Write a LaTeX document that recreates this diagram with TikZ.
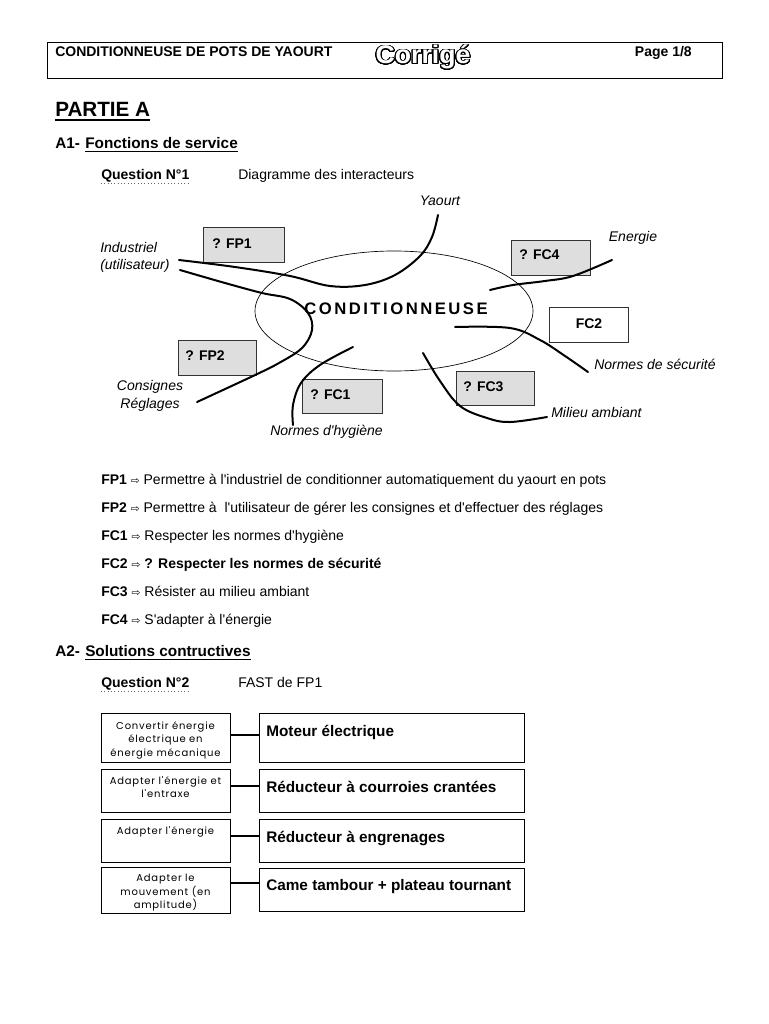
\documentclass[tikz,border=0pt]{standalone}
\usepackage{fontspec}
\setmainfont{Liberation Sans}[Ligatures=TeXOff]
\newfontfamily\spacedfont{Liberation Sans}[LetterSpace=15]
\newfontfamily\fastfont{Poppins}[LetterSpace=8]
\newfontfamily\symfont{DejaVu Sans}
\usepackage{graphicx}
\usepackage[copies]{contour}
\contourlength{0.6pt}
\contournumber{40}
\usetikzlibrary{shapes.geometric,calc}
\definecolor{boxgrey}{HTML}{DEDEDE}
\newcommand{\arr}{{\symfont\fontsize{8}{10}\selectfont ⇨}}
\begin{document}
\begin{tikzpicture}[x=0.75pt,y=-0.75pt,
  txt/.style={inner sep=0pt, anchor=base west, font=\fontsize{10.5}{12}\selectfont},
  btxt/.style={txt, font=\bfseries\fontsize{10.5}{12}\selectfont},
  itxt/.style={inner sep=0pt, anchor=base, font=\itshape\fontsize{10.5}{12.5}\selectfont, align=center},
  greybox/.style={draw=black!80, fill=boxgrey, line width=0.6pt, inner sep=0pt, anchor=north west},
  whitebox/.style={draw=black!80, fill=white, line width=0.6pt, inner sep=0pt, anchor=north west},
  curve/.style={line width=1.5pt, line cap=round, line join=round},
  fastbox/.style={draw=black, line width=0.8pt, inner sep=0pt, anchor=north west},
  fasttxt/.style={inner sep=0pt, anchor=north, align=center, font=\fastfont\fontsize{7.5}{10.2}\selectfont},
  fastsol/.style={inner sep=0pt, anchor=base west, font=\bfseries\fontsize{11.5}{13}\selectfont}
]
\useasboundingbox (0,0) rectangle (768,1024);
\fill[white] (0,0) rectangle (768,1024);

% header
\node[draw, line width=1pt, minimum width=675*0.75pt, minimum height=36*0.75pt, anchor=north west, inner sep=0pt] (hdr) at (47,42) {};
\node[btxt] (htitle) at (55,57) {CONDITIONNEUSE DE POTS DE YAOURT};
\node[btxt, anchor=base east] (hpage) at (692,57) {Page 1/8};
\node[inner sep=0pt, anchor=base, text=white, font=\bfseries\fontsize{16}{18}\selectfont] (corr) at (423,64) {\scalebox{1.25}[1.2]{\contour{black}{Corrigé}}};

% titles
\node[txt, font=\bfseries\fontsize{15.5}{18}\selectfont] (partie) at (55,116) {PARTIE A};
\draw[line width=1.1pt] ($(partie.base west)+(0,4)$) -- ($(partie.base east)+(0,4)$);
\node[txt, font=\bfseries\fontsize{11.5}{13}\selectfont] (a1) at (55,148) {A1-};
\node[txt, font=\bfseries\fontsize{11.5}{13}\selectfont] (a1t) at (85,148) {Fonctions de service};
\draw[line width=0.9pt] ($(a1t.base west)+(0,3.5)$) -- ($(a1t.base east)+(0,3.5)$);
\node[btxt] (q1) at (101,179) {Question N°1};
\draw[dotted, line width=0.5pt, black!60] ($(q1.base west)+(0,4)$) -- ($(q1.base east)+(0,4)$);
\node[txt] (q1t) at (238,179) {Diagramme des interacteurs};

% interactor diagram
\node[draw, ellipse, line width=0.5pt, minimum width=278*0.75pt, minimum height=120*0.75pt, inner sep=0pt] (cond) at (394,311) {};
\node[inner sep=0pt, font=\spacedfont\bfseries\fontsize{12.5}{14}\selectfont] (condt) at (396,309) {CONDITIONNEUSE};

\node[greybox, minimum width=81*0.75pt, minimum height=35*0.75pt] (bfp1) at (203,227) {};
\node[greybox, minimum width=79*0.75pt, minimum height=35*0.75pt] (bfc4) at (511,240) {};
\node[whitebox, minimum width=79*0.75pt, minimum height=35*0.75pt] (bfc2) at (549,307) {};
\node[greybox, minimum width=78*0.75pt, minimum height=35*0.75pt] (bfp2) at (178,340) {};
\node[greybox, minimum width=80*0.75pt, minimum height=34*0.75pt] (bfc1) at (302,379) {};
\node[greybox, minimum width=78*0.75pt, minimum height=34*0.75pt] (bfc3) at (456,371) {};

\draw[curve] plot[smooth, tension=0.6] coordinates {(179,260) (235,267) (290,276) (330,286) (365,285) (395,275) (420,256) (432,237) (438,215)};
\draw[curve] plot[smooth, tension=0.6] coordinates {(180,270) (225,283) (262,293) (290,299) (308,313) (312,330) (302,348) (279,363) (253,376) (197,402)};
\draw[curve] plot[smooth, tension=0.6] coordinates {(353,347) (320,365) (301,383) (293,405) (293,425)};
\draw[curve] plot[smooth, tension=0.6] coordinates {(490,290) (513,285) (545,281) (573,276) (612,260)};
\draw[curve] plot[smooth, tension=0.6] coordinates {(455,327) (510,328) (540,340) (565,356) (588,372)};
\draw[curve] plot[smooth, tension=0.6] coordinates {(423,353) (440,381) (460,406) (487,418) (510,422) (547,417)};

\node[btxt] (tfp1) at (212,248) {? FP1};
\node[btxt] (tfc4) at (519,259) {? FC4};
\node[btxt, anchor=base] (tfc2) at (589,328) {FC2};
\node[btxt] (tfp2) at (185,360) {? FP2};
\node[btxt] (tfc1) at (310,399) {? FC1};
\node[btxt] (tfc3) at (463,391) {? FC3};

\node[itxt] (yaourt) at (440,205) {Yaourt};
\node[itxt, anchor=base west] (indus) at (100,252) {Industriel};
\node[itxt, anchor=base west] (util) at (100,269) {(utilisateur)};
\node[itxt] (energie) at (633,241) {Energie};
\node[itxt, anchor=base west] (nsecu) at (594,369) {Normes de sécurité};
\node[itxt] (consig) at (150,390) {Consignes};
\node[itxt] (regl) at (150,408) {Réglages};
\node[itxt, anchor=base west] (milieu) at (551,417) {Milieu ambiant};
\node[itxt, anchor=base west] (nhyg) at (270,435) {Normes d'hygiène};

% functions list
\node[txt] (lfp1) at (101,484) {\textbf{FP1} \arr{} Permettre à l'industriel de conditionner automatiquement du yaourt en pots};
\node[txt] (lfp2) at (101,512) {\textbf{FP2} \arr{} Permettre à \ l'utilisateur de gérer les consignes et d'effectuer des réglages};
\node[txt] (lfc1) at (101,540) {\textbf{FC1} \arr{} Respecter les normes d'hygiène};
\node[txt] (lfc2) at (101,568) {\textbf{FC2} \arr{} \textbf{? Respecter les normes de sécurité}};
\node[txt] (lfc3) at (101,596) {\textbf{FC3} \arr{} Résister au milieu ambiant};
\node[txt] (lfc4) at (101,624) {\textbf{FC4} \arr{} S'adapter à l'énergie};

% A2
\node[txt, font=\bfseries\fontsize{11.5}{13}\selectfont] (a2) at (55,656) {A2-};
\node[txt, font=\bfseries\fontsize{11.5}{13}\selectfont] (a2t) at (85,656) {Solutions contructives};
\draw[line width=0.9pt] ($(a2t.base west)+(0,3.5)$) -- ($(a2t.base east)+(0,3.5)$);
\node[btxt] (q2) at (101,687) {Question N°2};
\draw[dotted, line width=0.5pt, black!60] ($(q2.base west)+(0,4)$) -- ($(q2.base east)+(0,4)$);
\node[txt] (q2t) at (238,687) {FAST de FP1};

% FAST
\node[fastbox, minimum width=129*0.75pt, minimum height=49*0.75pt] (fl1) at (101,713) {};
\node[fastbox, minimum width=129*0.75pt, minimum height=43*0.75pt] (fl2) at (101,769) {};
\node[fastbox, minimum width=129*0.75pt, minimum height=43*0.75pt] (fl3) at (101,819) {};
\node[fastbox, minimum width=129*0.75pt, minimum height=46*0.75pt] (fl4) at (101,867) {};
\node[fastbox, minimum width=265*0.75pt, minimum height=49*0.75pt] (fr1) at (259,713) {};
\node[fastbox, minimum width=265*0.75pt, minimum height=43*0.75pt] (fr2) at (259,769) {};
\node[fastbox, minimum width=265*0.75pt, minimum height=43*0.75pt] (fr3) at (259,819) {};
\node[fastbox, minimum width=265*0.75pt, minimum height=43*0.75pt] (fr4) at (259,868) {};

\coordinate (k1) at (240,735);
\coordinate (k2) at (240,786);
\coordinate (k3) at (240,836);
\coordinate (k4) at (240,883);
\draw[line width=0.8pt] (fl1.east |- k1) -- (fr1.west |- k1);
\draw[line width=0.8pt] (fl2.east |- k2) -- (fr2.west |- k2);
\draw[line width=0.8pt] (fl3.east |- k3) -- (fr3.west |- k3);
\draw[line width=0.8pt] (fl4.east |- k4) -- (fr4.west |- k4);

\node[fasttxt] (tl1) at (165.5,721) {Convertir énergie\\électrique en\\énergie mécanique};
\node[fasttxt] (tl2) at (165.5,776) {Adapter l'énergie et\\l'entraxe};
\node[fasttxt] (tl3) at (165.5,826) {Adapter l'énergie};
\node[fasttxt] (tl4) at (165.5,874) {Adapter le\\mouvement (en\\amplitude)};

\node[fastsol] (ts1) at (266,736) {Moteur électrique};
\node[fastsol] (ts2) at (266,792) {Réducteur à courroies crantées};
\node[fastsol] (ts3) at (266,842) {Réducteur à engrenages};
\node[fastsol] (ts4) at (266,890) {Came tambour + plateau tournant};
\end{tikzpicture}
\end{document}
